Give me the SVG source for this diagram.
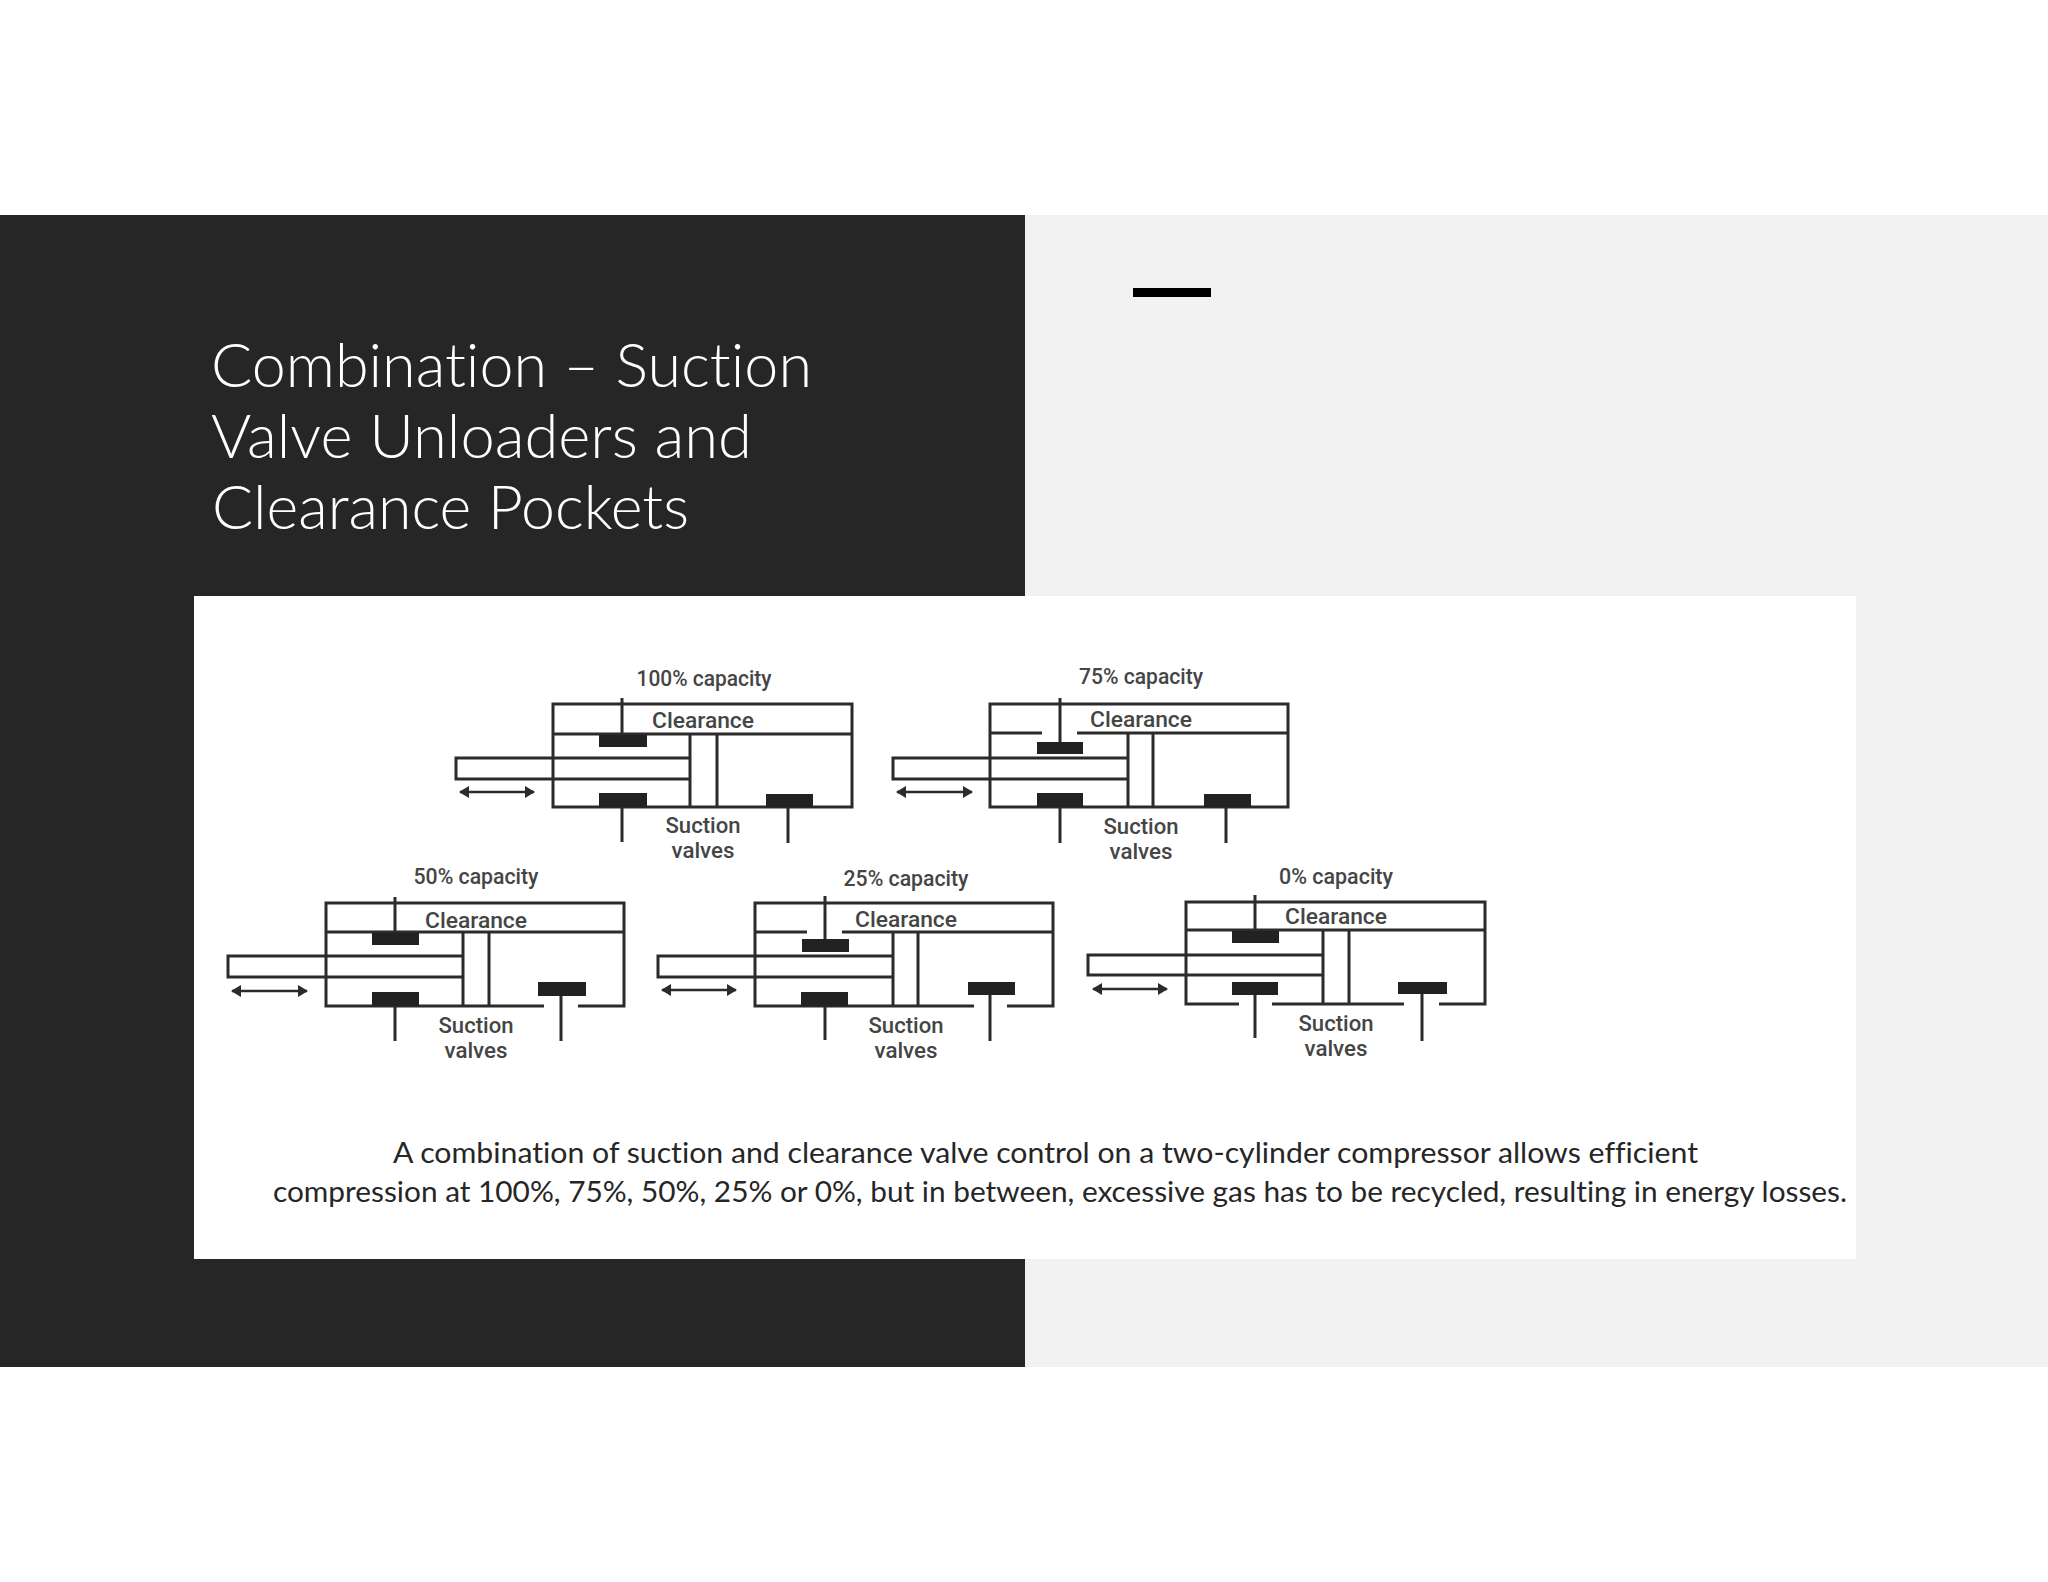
<svg xmlns="http://www.w3.org/2000/svg" width="2048" height="1582" viewBox="0 0 2048 1582">
<style>
text{font-variant-ligatures:none}
.ln{fill:none;stroke:#2b2b2b;stroke-width:3}
.v{fill:#222}
.lb{font-family:Roboto,"Liberation Sans",sans-serif;font-weight:500;font-size:22px;fill:#454545;text-anchor:middle}
.ti{font-family:Lato,"Liberation Sans",sans-serif;font-weight:300;font-size:61px;fill:#fff}
.bd{font-family:Lato,"Liberation Sans",sans-serif;font-size:28px;fill:#262626}
.ar{fill:none;stroke:#2b2b2b;stroke-width:2.7;marker-start:url(#ah);marker-end:url(#ah)}
</style>
<defs>
<marker id="ah" viewBox="0 0 10 12" refX="9" refY="6" markerWidth="10" markerHeight="12" markerUnits="userSpaceOnUse" orient="auto-start-reverse"><path d="M0 0L10 6L0 12Z" fill="#2b2b2b"/></marker>
</defs>
<rect width="2048" height="1582" fill="#fff"/>
<rect id="panel-right" x="1025" y="215" width="1023" height="1152" fill="#f2f2f3"/>
<rect id="panel-left" x="0" y="215" width="1025" height="1152" fill="#272627"/>
<rect id="dash" x="1133" y="288" width="78" height="9" fill="#000"/>
<g id="title">
<text class="ti" x="211" y="387" textLength="601" lengthAdjust="spacingAndGlyphs">Combination – Suction</text>
<text class="ti" x="211" y="458" textLength="541" lengthAdjust="spacingAndGlyphs">Valve Unloaders and</text>
<text class="ti" x="212" y="529" textLength="477" lengthAdjust="spacingAndGlyphs">Clearance Pockets</text>
</g>
<rect id="card" x="194" y="596" width="1662" height="663" fill="#fff"/>
<g id="capacity-100">
<path class="ln" d="M553 704H852V807H553ZM553 734H852M690 758H456V779H690M690 734V807M717 734V807M622 698V735M622 807V842M788 807V843"/>
<rect class="v" x="599" y="735" width="48" height="12"/><rect class="v" x="599" y="793" width="48" height="14"/><rect class="v" x="766" y="794" width="47" height="13"/>
<text class="lb" x="704" y="686" textLength="135" lengthAdjust="spacingAndGlyphs">100% capacity</text>
<text class="lb" x="703" y="728" textLength="102" lengthAdjust="spacingAndGlyphs">Clearance</text>
<text class="lb" x="703" y="833" textLength="75" lengthAdjust="spacingAndGlyphs">Suction</text>
<text class="lb" x="703" y="858" textLength="63" lengthAdjust="spacingAndGlyphs">valves</text>
</g>
<g id="capacity-75">
<path class="ln" d="M1042 733H990V704H1288V807H990V733M1077 733H1288M1128 758H893V779H1128M1128 733V807M1153 733V807M1060 698V742M1060 807V843M1226 807V843"/>
<rect class="v" x="1037" y="742" width="46" height="12"/><rect class="v" x="1037" y="793" width="46" height="14"/><rect class="v" x="1204" y="794" width="47" height="13"/>
<text class="lb" x="1141" y="684" textLength="124" lengthAdjust="spacingAndGlyphs">75% capacity</text>
<text class="lb" x="1141" y="727" textLength="102" lengthAdjust="spacingAndGlyphs">Clearance</text>
<text class="lb" x="1141" y="834" textLength="75" lengthAdjust="spacingAndGlyphs">Suction</text>
<text class="lb" x="1141" y="859" textLength="63" lengthAdjust="spacingAndGlyphs">valves</text>
</g>
<g id="capacity-50">
<path class="ln" d="M544 1006H326V903H624V1006H578M326 932H624M463 956H228V977H463M463 932V1006M489 932V1006M395 897V933M395 1006V1041M561 996V1041"/>
<rect class="v" x="372" y="933" width="47" height="12"/><rect class="v" x="372" y="992" width="47" height="14"/><rect class="v" x="538" y="982" width="48" height="14"/>
<text class="lb" x="476" y="884" textLength="125" lengthAdjust="spacingAndGlyphs">50% capacity</text>
<text class="lb" x="476" y="928" textLength="102" lengthAdjust="spacingAndGlyphs">Clearance</text>
<text class="lb" x="476" y="1033" textLength="75" lengthAdjust="spacingAndGlyphs">Suction</text>
<text class="lb" x="476" y="1058" textLength="63" lengthAdjust="spacingAndGlyphs">valves</text>
</g>
<g id="capacity-25">
<path class="ln" d="M807 932H755V903H1053V1006H1007M974 1006H755V932M842 932H1053M893 956H658V977H893M893 932V1006M918 932V1006M825 896V939M825 1006V1040M990 995V1041"/>
<rect class="v" x="802" y="939" width="47" height="13"/><rect class="v" x="801" y="992" width="47" height="14"/><rect class="v" x="968" y="982" width="47" height="13"/>
<text class="lb" x="906" y="886" textLength="125" lengthAdjust="spacingAndGlyphs">25% capacity</text>
<text class="lb" x="906" y="927" textLength="102" lengthAdjust="spacingAndGlyphs">Clearance</text>
<text class="lb" x="906" y="1033" textLength="75" lengthAdjust="spacingAndGlyphs">Suction</text>
<text class="lb" x="906" y="1058" textLength="63" lengthAdjust="spacingAndGlyphs">valves</text>
</g>
<g id="capacity-0">
<path class="ln" d="M1239 1004H1186V902H1485V1004H1439M1404 1004H1272M1186 930H1485M1323 955H1088V975H1323M1323 930V1004M1349 930V1004M1255 895V931M1255 995V1038M1422 994V1041"/>
<rect class="v" x="1232" y="931" width="47" height="12"/><rect class="v" x="1232" y="982" width="46" height="13"/><rect class="v" x="1398" y="982" width="49" height="12"/>
<text class="lb" x="1336" y="884" textLength="114" lengthAdjust="spacingAndGlyphs">0% capacity</text>
<text class="lb" x="1336" y="924" textLength="102" lengthAdjust="spacingAndGlyphs">Clearance</text>
<text class="lb" x="1336" y="1031" textLength="75" lengthAdjust="spacingAndGlyphs">Suction</text>
<text class="lb" x="1336" y="1056" textLength="63" lengthAdjust="spacingAndGlyphs">valves</text>
</g>
<g id="connectors">
<path class="ar" d="M460 792H534"/>
<path class="ar" d="M897 792H972"/>
<path class="ar" d="M232 991H307"/>
<path class="ar" d="M662 990H736"/>
<path class="ar" d="M1093 989H1167"/>
</g>
<g id="caption">
<text class="bd" x="393" y="1163" textLength="1305" lengthAdjust="spacingAndGlyphs">A combination of suction and clearance valve control on a two-cylinder compressor allows efficient</text>
<text class="bd" x="273" y="1202" textLength="1574" lengthAdjust="spacingAndGlyphs">compression at 100%, 75%, 50%, 25% or 0%, but in between, excessive gas has to be recycled, resulting in energy losses.</text>
</g>
</svg>
